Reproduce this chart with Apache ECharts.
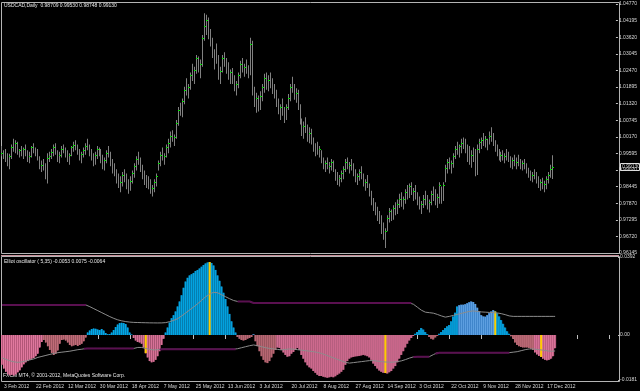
<!DOCTYPE html>
<html><head><meta charset="utf-8">
<script src="https://cdn.jsdelivr.net/npm/echarts@6/dist/echarts.min.js"></script>
<style>html,body{margin:0;padding:0;background:#000}#c{width:640px;height:391px}</style>
</head><body><div id="c"></div><script>
const symbolTitle = 'USDCAD,Daily  0.98709 0.99530 0.98748 0.99130';
const oscTitle = 'Elliot oscillator ( 5,35) -0.0053 0.0075 -0.0064';
const copyright = 'FXCM MT4, \u00a9 2001-2012, MetaQuotes Software Corp.';
const dateLabels = ['3 Feb 2012','22 Feb 2012','12 Mar 2012','30 Mar 2012','18 Apr 2012','7 May 2012','25 May 2012','13 Jun 2012','3 Jul 2012','20 Jul 2012','8 Aug 2012','27 Aug 2012','14 Sep 2012','3 Oct 2012','22 Oct 2012','9 Nov 2012','28 Nov 2012','17 Dec 2012'];
const priceTicks = [0.96145,0.96720,0.97295,0.97870,0.98445,0.99020,0.99595,1.00170,1.00745,1.01320,1.01895,1.02470,1.03045,1.03620,1.04195,1.04770];
const oscTicks = [-0.0181, 0, 0.0314];
const oscTickLabels = ['-0.0181', '0.00', '0.0392'];
const lastPrice = 0.99130;

const high = [
.9985,.9970,.9975,.9960,.9958,.9990,1.0010,1.0005,1.0000,.9975,
.9985,.9980,.9990,.9970,.9965,.9985,.9995,.9980,.9975,.9950,
.9935,.9940,.9925,.9960,.9965,.9975,.9990,.9995,.9970,.9965,
.9985,.9990,.9980,.9970,.9960,.9985,1.0000,1.0005,.9990,.9975,
.9965,.9980,.9995,1.0010,.9990,.9975,.9960,.9965,.9985,.9980,
.9975,.9955,.9945,.9970,.9985,.9965,.9940,.9925,.9905,.9890,
.9880,.9895,.9905,.9890,.9870,.9880,.9900,.9925,.9950,.9965,
.9945,.9920,.9900,.9885,.9880,.9870,.9850,.9870,.9890,.9935,
.9965,.9980,.9960,.9990,1.0010,1.0035,1.0040,1.0025,1.0075,1.0120,
1.0135,1.0150,1.0190,1.0220,1.0200,1.0240,1.0270,1.0260,1.0300,1.0295,
1.0285,1.0370,1.0445,1.0440,1.0430,1.0390,1.0360,1.0320,1.0340,1.0300,
1.0260,1.0300,1.0310,1.0290,1.0275,1.0250,1.0255,1.0230,1.0210,1.0240,
1.0280,1.0290,1.0270,1.0285,1.0265,1.0360,1.0350,1.0190,1.0170,1.0160,
1.0175,1.0200,1.0235,1.0240,1.0230,1.0240,1.0220,1.0200,1.0180,1.0150,
1.0130,1.0150,1.0120,1.0130,1.0165,1.0200,1.0225,1.0200,1.0185,1.0180,
1.0130,1.0080,1.0070,1.0085,1.0060,1.0050,1.0045,1.0015,.9995,1.0000,
.9985,.9970,.9945,.9935,.9945,.9930,.9940,.9935,.9905,.9895,
.9885,.9900,.9915,.9940,.9945,.9930,.9940,.9925,.9905,.9890,
.9905,.9915,.9890,.9870,.9885,.9855,.9830,.9805,.9790,.9775,
.9760,.9745,.9720,.9700,.9745,.9770,.9765,.9780,.9790,.9800,
.9820,.9825,.9810,.9835,.9850,.9855,.9860,.9840,.9850,.9825,
.9810,.9795,.9815,.9830,.9815,.9800,.9830,.9845,.9835,.9820,
.9860,.9845,.9860,.9920,.9940,.9945,.9935,.9960,.9985,1.0000,
.9990,1.0010,1.0015,1.0010,.9990,.9985,.9970,.9980,.9975,.9990,
1.0010,1.0015,1.0030,1.0020,1.0010,1.0035,1.0050,1.0030,1.0005,.9990,
.9975,.9965,.9970,.9960,.9975,.9965,.9950,.9945,.9955,.9945,
.9955,.9940,.9935,.9940,.9925,.9910,.9900,.9895,.9905,.9895,
.9880,.9870,.9875,.9865,.9880,.9895,.9920,.9953];
const low = [
.9950,.9940,.9930,.9915,.9905,.9940,.9965,.9960,.9955,.9945,
.9950,.9940,.9950,.9930,.9925,.9945,.9960,.9950,.9935,.9905,
.9895,.9900,.9870,.9855,.9930,.9940,.9950,.9955,.9930,.9925,
.9945,.9960,.9945,.9930,.9920,.9950,.9965,.9970,.9955,.9935,
.9925,.9945,.9955,.9970,.9950,.9935,.9915,.9920,.9940,.9950,
.9925,.9905,.9900,.9925,.9945,.9915,.9890,.9880,.9855,.9840,
.9825,.9845,.9860,.9835,.9820,.9830,.9855,.9875,.9900,.9920,
.9895,.9870,.9850,.9840,.9835,.9820,.9810,.9825,.9845,.9900,
.9915,.9935,.9920,.9945,.9960,.9980,1.0000,.9985,1.0010,1.0055,
1.0090,1.0085,1.0130,1.0160,1.0150,1.0180,1.0210,1.0200,1.0235,1.0240,
1.0220,1.0260,1.0350,1.0370,1.0355,1.0330,1.0290,1.0250,1.0270,1.0215,
1.0200,1.0240,1.0260,1.0235,1.0215,1.0200,1.0200,1.0175,1.0160,1.0185,
1.0220,1.0240,1.0225,1.0235,1.0220,1.0230,1.0160,1.0120,1.0100,1.0105,
1.0110,1.0140,1.0170,1.0180,1.0175,1.0185,1.0165,1.0150,1.0120,1.0095,
1.0075,1.0090,1.0065,1.0075,1.0110,1.0140,1.0170,1.0145,1.0135,1.0110,
1.0060,1.0020,1.0010,1.0030,1.0000,.9995,.9990,.9965,.9950,.9955,
.9945,.9925,.9905,.9895,.9905,.9890,.9900,.9895,.9865,.9850,
.9845,.9860,.9870,.9895,.9905,.9890,.9900,.9880,.9860,.9850,
.9865,.9870,.9845,.9830,.9840,.9810,.9780,.9760,.9745,.9725,
.9715,.9680,.9660,.9632,.9690,.9720,.9725,.9730,.9745,.9750,
.9770,.9775,.9765,.9785,.9800,.9805,.9815,.9795,.9800,.9780,
.9765,.9750,.9770,.9780,.9765,.9755,.9780,.9795,.9780,.9770,
.9785,.9785,.9795,.9860,.9890,.9905,.9890,.9910,.9940,.9955,
.9945,.9960,.9975,.9960,.9930,.9920,.9910,.9930,.9880,.9885,
.9960,.9975,.9985,.9980,.9970,.9990,1.0000,.9985,.9965,.9950,
.9935,.9930,.9935,.9925,.9935,.9930,.9910,.9905,.9915,.9905,
.9915,.9905,.9900,.9905,.9890,.9875,.9865,.9860,.9870,.9855,
.9840,.9830,.9835,.9825,.9835,.9855,.9875,.9871];
const close = [
.9962,.9955,.9945,.9930,.9950,.9980,.9975,.9995,.9960,.9970,
.9960,.9975,.9955,.9945,.9950,.9980,.9970,.9965,.9940,.9915,
.9920,.9910,.9880,.9945,.9950,.9965,.9980,.9960,.9940,.9955,
.9975,.9968,.9950,.9940,.9955,.9980,.9990,.9975,.9960,.9945,
.9958,.9970,.9985,.9975,.9960,.9940,.9930,.9955,.9975,.9960,
.9935,.9920,.9935,.9960,.9950,.9925,.9900,.9890,.9870,.9850,
.9860,.9885,.9870,.9845,.9835,.9865,.9890,.9915,.9940,.9930,
.9905,.9880,.9865,.9860,.9850,.9830,.9840,.9860,.9880,.9925,
.9955,.9945,.9950,.9980,.9995,1.0020,1.0010,1.0015,1.0065,1.0110,
1.0100,1.0140,1.0180,1.0170,1.0190,1.0230,1.0225,1.0250,1.0290,1.0255,
1.0270,1.0360,1.0400,1.0420,1.0370,1.0345,1.0300,1.0290,1.0280,1.0230,
1.0245,1.0290,1.0270,1.0250,1.0225,1.0240,1.0210,1.0185,1.0200,1.0230,
1.0270,1.0250,1.0260,1.0245,1.0240,1.0340,1.0180,1.0140,1.0150,1.0130,
1.0160,1.0190,1.0220,1.0200,1.0215,1.0195,1.0180,1.0165,1.0130,1.0110,
1.0120,1.0100,1.0085,1.0120,1.0150,1.0190,1.0180,1.0160,1.0170,1.0125,
1.0070,1.0040,1.0055,1.0040,1.0015,1.0030,1.0000,.9980,.9970,.9960,
.9975,.9935,.9920,.9925,.9910,.9915,.9930,.9900,.9880,.9870,
.9875,.9890,.9905,.9930,.9915,.9920,.9910,.9890,.9875,.9880,
.9895,.9880,.9855,.9860,.9850,.9820,.9790,.9775,.9760,.9740,
.9730,.9700,.9680,.9690,.9735,.9760,.9740,.9770,.9755,.9785,
.9800,.9790,.9800,.9825,.9815,.9845,.9825,.9830,.9810,.9790,
.9775,.9785,.9800,.9790,.9780,.9790,.9820,.9805,.9790,.9810,
.9850,.9800,.9850,.9910,.9930,.9915,.9925,.9950,.9975,.9965,
.9985,.9995,.9990,.9975,.9950,.9940,.9955,.9945,.9900,.9975,
1.0000,1.0005,1.0000,1.0010,.9985,1.0020,1.0010,.9995,.9975,.9960,
.9945,.9955,.9940,.9950,.9945,.9938,.9920,.9935,.9925,.9930,
.9920,.9915,.9925,.9910,.9900,.9885,.9875,.9885,.9880,.9865,
.9850,.9860,.9845,.9855,.9870,.9885,.9905,.9913];

const hist = [
-0.0120,-0.0135,-0.0148,-0.0158,-0.0162,-0.0160,-0.0163,-0.0158,-0.0150,-0.0142,
-0.0130,-0.0118,-0.0110,-0.0105,-0.0100,-0.0095,-0.0092,-0.0085,-0.0075,-0.0050,
-0.0028,-0.0020,-0.0030,-0.0045,-0.0060,-0.0072,-0.0080,-0.0075,-0.0062,-0.0035,
-0.0020,-0.0018,-0.0022,-0.0030,-0.0040,-0.0045,-0.0042,-0.0040,-0.0044,-0.0040,
-0.0035,-0.0025,-0.0010,0.0010,0.0018,0.0024,0.0026,0.0025,0.0022,0.0020,
0.0024,0.0018,0.0008,0.0003,0.0004,0.0010,0.0020,0.0032,0.0042,0.0048,
0.0049,0.0048,0.0044,0.0030,0.0010,0.0002,-0.0012,-0.0022,-0.0028,-0.0030,
-0.0035,-0.0050,-0.0073,-0.0090,-0.0105,-0.0110,-0.0108,-0.0100,-0.0085,-0.0065,
-0.0040,-0.0015,0.0010,0.0030,0.0050,0.0068,0.0080,0.0095,0.0115,0.0135,
0.0160,0.0190,0.0215,0.0230,0.0240,0.0245,0.0250,0.0258,0.0262,0.0268,
0.0275,0.0282,0.0288,0.0292,0.0294,0.0290,0.0280,0.0262,0.0240,0.0218,
0.0195,0.0170,0.0145,0.0115,0.0085,0.0055,0.0030,0.0010,-0.0008,-0.0015,
-0.0020,-0.0022,-0.0020,-0.0015,-0.0012,-0.0008,0.0003,-0.0025,-0.0045,-0.0065,
-0.0085,-0.0100,-0.0110,-0.0113,-0.0105,-0.0090,-0.0075,-0.0060,-0.0050,-0.0052,
-0.0060,-0.0070,-0.0080,-0.0087,-0.0085,-0.0075,-0.0068,-0.0060,-0.0052,-0.0060,
-0.0080,-0.0095,-0.0110,-0.0122,-0.0130,-0.0135,-0.0145,-0.0152,-0.0160,-0.0165,
-0.0165,-0.0168,-0.0170,-0.0172,-0.0170,-0.0168,-0.0170,-0.0166,-0.0160,-0.0155,
-0.0148,-0.0140,-0.0120,-0.0105,-0.0095,-0.0090,-0.0088,-0.0086,-0.0085,-0.0084,
-0.0082,-0.0080,-0.0082,-0.0085,-0.0090,-0.0100,-0.0115,-0.0125,-0.0135,-0.0143,
-0.0148,-0.0152,-0.0153,-0.0155,-0.0150,-0.0145,-0.0135,-0.0125,-0.0110,-0.0095,
-0.0080,-0.0065,-0.0050,-0.0035,-0.0022,-0.0012,-0.0004,0.0005,0.0012,0.0020,
0.0028,0.0022,0.0012,0.0004,-0.0008,-0.0015,-0.0018,-0.0010,-0.0004,0.0005,
0.0012,0.0020,0.0028,0.0035,0.0040,0.0055,0.0075,0.0090,0.0115,0.0120,
0.0122,0.0122,0.0124,0.0128,0.0132,0.0135,0.0133,0.0125,0.0110,0.0095,
0.0080,0.0075,0.0074,0.0080,0.0088,0.0095,0.0100,0.0095,0.0088,0.0075,
0.0060,0.0045,0.0030,0.0015,0.0005,-0.0005,-0.0015,-0.0030,-0.0040,-0.0045,
-0.0048,-0.0050,-0.0050,-0.0050,-0.0052,-0.0055,-0.0060,-0.0070,-0.0078,-0.0084,
-0.0088,-0.0095,-0.0100,-0.0102,-0.0100,-0.0095,-0.0085,-0.0053];
const signalIdx = [72, 104, 192, 247, 270];
const histAltRanges = [[21,42],[118,137],[214,218],[229,246],[255,266]];

const upperLine = [
0.0121,0.0121,0.0121,0.0121,0.0121,0.0121,0.0121,0.0121,0.0121,0.0121,
0.0121,0.0121,0.0121,0.0121,0.0121,0.0121,0.0121,0.0121,0.0121,0.0121,
0.0121,0.0121,0.0121,0.0121,0.0121,0.0121,0.0121,0.0121,0.0121,0.0121,
0.0121,0.0121,0.0121,0.0121,0.0121,0.0121,0.0121,0.0121,0.0121,0.0121,
0.0121,0.0121,0.0121,0.0118,0.0114,0.0110,0.0106,0.0102,0.0098,0.0094,
0.0090,0.0086,0.0082,0.0078,0.0074,0.0070,0.0067,0.0064,0.0061,0.0059,
0.0057,0.0055,0.0054,0.0053,0.0052,0.0051,0.00508,0.00505,0.00503,0.0050,
0.00498,0.00496,0.00494,0.00492,0.0049,0.00489,0.00488,0.00487,0.00486,0.00487,
0.00488,0.0049,0.0050,0.0052,0.0054,0.0056,0.0059,0.0062,0.0066,0.0071,
0.0077,0.0083,0.0089,0.0095,0.0101,0.0107,0.0113,0.0119,0.0126,0.0133,
0.0140,0.0147,0.0154,0.0160,0.0165,0.0169,0.0172,0.0173,0.0170,0.0166,
0.0162,0.0158,0.0154,0.0150,0.0146,0.0142,0.0139,0.0136,0.0135,0.0135,
0.0135,0.0135,0.0135,0.0135,0.0135,0.0135,0.0129,0.0129,0.0129,0.0129,
0.0129,0.0129,0.0129,0.0129,0.0129,0.0129,0.0129,0.0129,0.0129,0.0129,
0.0129,0.0129,0.0129,0.0129,0.0129,0.0129,0.0129,0.0129,0.0129,0.0129,
0.0129,0.0129,0.0129,0.0129,0.0129,0.0129,0.0129,0.0129,0.0129,0.0129,
0.0129,0.0129,0.0129,0.0129,0.0129,0.0129,0.0129,0.0129,0.0129,0.0129,
0.0129,0.0129,0.0129,0.0129,0.0129,0.0129,0.0129,0.0129,0.0129,0.0129,
0.0129,0.0129,0.0129,0.0129,0.0129,0.0129,0.0129,0.0129,0.0129,0.0129,
0.0129,0.0129,0.0129,0.0129,0.0129,0.0129,0.0129,0.0129,0.0129,0.0129,
0.0129,0.0129,0.0129,0.0129,0.0129,0.0129,0.0124,0.0118,0.0112,0.0106,
0.0100,0.0095,0.0092,0.0091,0.0090,0.0089,0.0088,0.0086,0.0083,0.0080,
0.0077,0.0074,0.0072,0.0073,0.0075,0.0077,0.0079,0.0081,0.0083,0.0085,
0.0087,0.0089,0.0091,0.0093,0.0095,0.0096,0.0097,0.0096,0.0095,0.0094,
0.0093,0.00925,0.0092,0.00915,0.0091,0.00905,0.0090,0.00895,0.0089,0.0088,
0.0086,0.0084,0.0082,0.0079,0.0077,0.0075,0.0075,0.0075,0.0075,0.0075,
0.0075,0.0075,0.0075,0.0075,0.0075,0.0075,0.0075,0.0075,0.0075,0.0075,
0.0075,0.0075,0.0075,0.0075,0.0075,0.0075,0.0075,0.0075];
const lowerLine = [
-0.0092,-0.0095,-0.0098,-0.0101,-0.0104,-0.0106,-0.0108,-0.0109,-0.0110,-0.0109,
-0.0108,-0.0106,-0.0104,-0.0102,-0.0100,-0.0098,-0.0096,-0.0093,-0.0090,-0.0088,
-0.0086,-0.0084,-0.0082,-0.0080,-0.0078,-0.0076,-0.0074,-0.0073,-0.0071,-0.0070,
-0.0069,-0.0068,-0.0067,-0.0066,-0.0065,-0.0063,-0.0062,-0.0061,-0.0059,-0.0058,
-0.0057,-0.0055,-0.0054,-0.0054,-0.0054,-0.0054,-0.0054,-0.0054,-0.0054,-0.0054,
-0.0054,-0.0054,-0.0054,-0.0054,-0.0054,-0.0054,-0.0054,-0.0054,-0.0054,-0.0054,
-0.0054,-0.0054,-0.0054,-0.0054,-0.0054,-0.0054,-0.0054,-0.0052,-0.0050,-0.0049,
-0.0050,-0.0052,-0.0054,-0.0056,-0.0058,-0.0059,-0.0060,-0.00598,-0.0059,-0.0058,
-0.0057,-0.0057,-0.0057,-0.0057,-0.0057,-0.0057,-0.0057,-0.0057,-0.0057,-0.0057,
-0.0057,-0.0057,-0.0057,-0.0057,-0.0057,-0.0057,-0.0057,-0.0057,-0.0057,-0.0057,
-0.0057,-0.0057,-0.0057,-0.0057,-0.0057,-0.0057,-0.0057,-0.0057,-0.0057,-0.0057,
-0.0057,-0.0057,-0.0057,-0.0057,-0.0057,-0.0057,-0.0057,-0.0057,-0.0055,-0.0053,
-0.0051,-0.0049,-0.0047,-0.0045,-0.0043,-0.0041,-0.0040,-0.0041,-0.0043,-0.0045,
-0.0047,-0.0049,-0.0051,-0.0053,-0.0054,-0.0055,-0.0056,-0.0057,-0.0058,-0.0059,
-0.0060,-0.0059,-0.0058,-0.0057,-0.0056,-0.00565,-0.0057,-0.0058,-0.0059,-0.0060,
-0.0061,-0.0062,-0.0063,-0.0064,-0.0065,-0.0066,-0.0067,-0.0068,-0.0070,-0.0072,
-0.0074,-0.0077,-0.0080,-0.0083,-0.0086,-0.0089,-0.0092,-0.0095,-0.0098,-0.0101,
-0.0104,-0.0107,-0.0110,-0.0112,-0.0113,-0.0112,-0.0111,-0.0110,-0.0109,-0.0108,
-0.0107,-0.0106,-0.0105,-0.0104,-0.0103,-0.0102,-0.0103,-0.0104,-0.0105,-0.0106,
-0.0107,-0.0108,-0.01085,-0.0109,-0.01095,-0.0110,-0.0109,-0.0108,-0.0107,-0.0106,
-0.0104,-0.0102,-0.0099,-0.0096,-0.0093,-0.0090,-0.0088,-0.0087,-0.0087,-0.0087,
-0.0087,-0.0087,-0.0087,-0.0087,-0.0087,-0.0083,-0.0079,-0.0075,-0.0071,-0.0071,
-0.0071,-0.0071,-0.0071,-0.0071,-0.0071,-0.0071,-0.0071,-0.0071,-0.0071,-0.0071,
-0.0071,-0.0071,-0.0071,-0.0071,-0.0071,-0.0071,-0.0071,-0.0071,-0.0071,-0.0071,
-0.0071,-0.0071,-0.0071,-0.0071,-0.0071,-0.0071,-0.0071,-0.0071,-0.0071,-0.0071,
-0.0071,-0.0071,-0.0071,-0.0071,-0.0071,-0.0070,-0.0069,-0.0068,-0.0067,-0.0065,
-0.0063,-0.0061,-0.0059,-0.0057,-0.0056,-0.0055,-0.0056,-0.0057,-0.0058,-0.0059,
-0.0060,-0.0061,-0.0062,-0.0063,-0.0065,-0.0066,-0.0065,-0.0064];
const upperFlatRanges = [[0,42],[118,205]];
const lowerFlatRanges = [[41,66],[79,117],[206,214],[217,254]];

const SLOTS = 309;
const cats = [];
for (let i = 0; i < SLOTS; i++) cats.push(String(i));

const inRanges = (i, rs) => rs.some(r => i >= r[0] && i <= r[1]);
const priceData = high.map((h, i) => [i, h, low[i], close[i], i > 0 ? close[i - 1] : close[i]]);
function histColors(v, alt) {
  if (v >= 0) return alt ? ['#3a86d2', '#6aa8e6'] : ['#00b0f0', '#0a86bd'];
  return alt ? ['#c26e7a', '#a85c68'] : ['#e27aa0', '#b85a7c'];
}
const histBack = hist.map((v, i) => ({ value: v, itemStyle: { color: histColors(v, inRanges(i, histAltRanges))[1] } }));
const histFront = hist.map((v, i) => ({ value: v, itemStyle: { color: histColors(v, inRanges(i, histAltRanges))[0] } }));
const sigData = hist.map((v, i) => signalIdx.includes(i) ? v : null);
const upperFlat = upperLine.map((v, i) => inRanges(i, upperFlatRanges) ? v : null);
const lowerFlat = lowerLine.map((v, i) => inRanges(i, lowerFlatRanges) ? v : null);

const FONT = 'Liberation Sans';
const TXT = '#d8d8d8';
const chart = echarts.init(document.getElementById('c'), null, { renderer: 'canvas' });
const option = {
  backgroundColor: '#000',
  animation: false,
  grid: [
    { left: 1, top: 4, width: 618, height: 249 },
    { left: 1, top: 257, width: 618, height: 123 }
  ],
  xAxis: [
    { type: 'category', gridIndex: 0, data: cats, boundaryGap: true,
      axisLine: { show: false }, axisTick: { show: false }, axisLabel: { show: false }, splitLine: { show: false } },
    { type: 'category', gridIndex: 1, data: cats, boundaryGap: true, offset: 2,
      axisLine: { show: false },
      axisTick: { show: true, interval: 15, alignWithLabel: true, length: 4, lineStyle: { color: '#c0c0c0' } },
      axisLabel: { show: true, interval: 15, align: 'left', margin: 2, padding: [0,0,0,2],
        fontFamily: FONT, fontSize: 5, color: TXT,
        formatter: (v) => { const k = Number(v) / 16; return Number.isInteger(k) && dateLabels[k] ? dateLabels[k] : ''; } },
      splitLine: { show: false } }
  ],
  yAxis: [
    { type: 'value', gridIndex: 0, position: 'right', min: 0.96145, max: 1.04770,
      axisLine: { show: false },
      axisTick: { show: true, length: 2, customValues: priceTicks, lineStyle: { color: '#c0c0c0' } },
      axisLabel: { show: true, customValues: priceTicks, margin: 3, fontFamily: FONT, fontSize: 5, color: TXT,
        formatter: v => v.toFixed(5) },
      splitLine: { show: false } },
    { type: 'value', gridIndex: 1, position: 'right', min: -0.0181, max: 0.0314,
      axisLine: { show: false },
      axisTick: { show: true, length: 2, customValues: oscTicks, lineStyle: { color: '#c0c0c0' } },
      axisLabel: { show: true, customValues: oscTicks, margin: 2, fontFamily: FONT, fontSize: 5, color: TXT,
        formatter: v => { const j = oscTicks.findIndex(t => Math.abs(t - v) < 1e-6); return j >= 0 ? oscTickLabels[j] : ''; } },
      splitLine: { show: false } }
  ],
  series: [
    { type: 'custom', xAxisIndex: 0, yAxisIndex: 0, data: priceData,
      encode: { x: 0, y: [1, 2, 3] },
      renderItem: (params, api) => {
        const i = api.value(0);
        const pH = api.coord([i, api.value(1)]);
        const pL = api.coord([i, api.value(2)]);
        const pC = api.coord([i, api.value(3)]);
        const x = Math.round(pH[0]) - 1;
        const kids = [{ type: 'rect', shape: { x: x, y: pH[1], width: 1, height: Math.max(1, pL[1] - pH[1]) }, style: { fill: '#808080' } }];
        if (api.value(3) >= api.value(4)) {
          kids.push({ type: 'rect', shape: { x: x, y: Math.round(pC[1]), width: 2, height: 1 }, style: { fill: '#00e000' } });
        }
        return { type: 'group', children: kids };
      }
    },
    { type: 'bar', xAxisIndex: 1, yAxisIndex: 1, data: histBack, barWidth: 2, barGap: '-100%' },
    { type: 'bar', xAxisIndex: 1, yAxisIndex: 1, data: histFront, barWidth: 1, barGap: '-100%' },
    { type: 'bar', xAxisIndex: 1, yAxisIndex: 1, data: sigData, barWidth: 2, barGap: '-100%', itemStyle: { color: '#ffcc00' } },
    { type: 'line', xAxisIndex: 1, yAxisIndex: 1, data: upperLine, symbol: 'none', lineStyle: { color: '#8c8c8c', width: 1 } },
    { type: 'line', xAxisIndex: 1, yAxisIndex: 1, data: lowerLine, symbol: 'none', lineStyle: { color: '#8c8c8c', width: 1 } },
    { type: 'line', xAxisIndex: 1, yAxisIndex: 1, data: upperFlat, symbol: 'none', connectNulls: false, lineStyle: { color: '#5a1050', width: 2 } },
    { type: 'line', xAxisIndex: 1, yAxisIndex: 1, data: lowerFlat, symbol: 'none', connectNulls: false, lineStyle: { color: '#5a1050', width: 2 } }
  ],
  graphic: [
    { type: 'rect', silent: true, shape: { x: 1.5, y: 2.5, width: 618, height: 251 }, style: { fill: null, stroke: '#b4b4b4', lineWidth: 1 } },
    { type: 'line', silent: true, shape: { x1: 1, y1: 255.5, x2: 619, y2: 255.5 }, style: { stroke: '#c8909a', lineWidth: 1 } },
    { type: 'rect', silent: true, shape: { x: 1.5, y: 256.5, width: 618, height: 125 }, style: { fill: null, stroke: '#b4b4b4', lineWidth: 1 } },
    { type: 'text', silent: true, left: 4, top: 3, style: { text: symbolTitle, fill: '#e8e8e8', font: '5px "Liberation Sans"' } },
    { type: 'text', silent: true, left: 4, top: 259, style: { text: oscTitle, fill: '#e8e8e8', font: '5px "Liberation Sans"' } },
    { type: 'text', silent: true, left: 3, top: 373, style: { text: copyright, fill: '#e8e8e8', font: '5px "Liberation Sans"' } }
  ]
};
chart.setOption(option);
// current price label placed through the price axis scale
const yLast = chart.convertToPixel({ yAxisIndex: 0 }, lastPrice);
chart.setOption({ graphic: option.graphic.concat([
  { type: 'rect', silent: true, shape: { x: 620.5, y: Math.round(yLast) - 3.5, width: 19, height: 7 }, style: { fill: '#000', stroke: '#e0e0e0', lineWidth: 1 } },
  { type: 'text', silent: true, x: 622, y: Math.round(yLast), style: { text: lastPrice.toFixed(5), fill: '#c8c8c8', font: '5px "Liberation Sans"', verticalAlign: 'middle' } }
]) });
</script></body></html>
